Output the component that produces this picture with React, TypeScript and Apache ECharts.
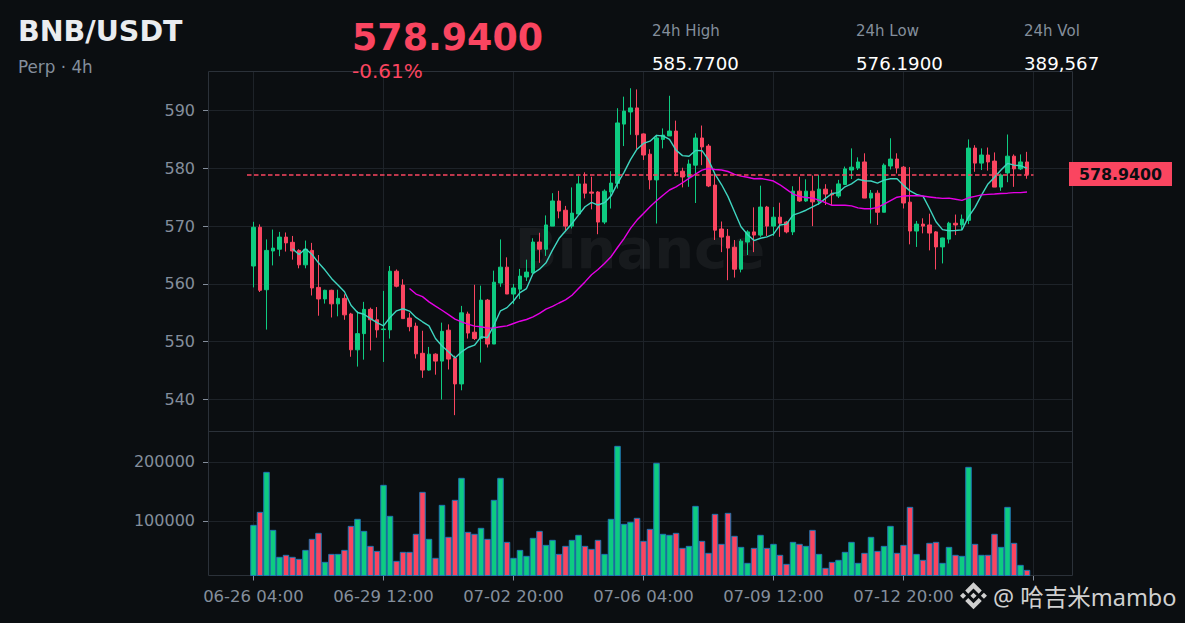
import React, { useEffect, useRef } from "react";
import * as echarts from "echarts";

const START_MS = Date.UTC(2024, 5, 26, 4);
const PAD = 7;
const PRICE_TICKS = [540, 550, 560, 570, 580, 590];
const VOLUME_TICKS = [100000, 200000];
const LAST_PRICE = 578.94;

const opens = [
  563.1, 569.8, 559.0, 565.7, 566.0, 568.1, 567.2, 565.8, 563.3, 565.8,
  559.4, 557.4, 558.9, 556.55, 557.5, 554.8, 548.6, 551.4, 555.6, 553.8,
  552.1, 552.05, 562.2, 559.8, 554.1, 552.7, 548.0, 545.1, 547.85, 546.65,
  552.0, 547.15, 542.7, 554.8, 551.65, 550.55, 557.2, 549.6, 560.15, 562.9,
  558.25, 559.1, 561.2, 561.9, 567.25, 566.0, 570.0, 574.35, 572.75, 570.0,
  572.1, 577.3, 575.9, 575.9, 570.7, 575.9, 577.4, 587.65, 589.75, 590.45,
  585.95, 582.45, 578.0, 585.0, 585.6, 586.45, 579.5, 578.5, 580.55, 585.25,
  583.85, 577.1, 569.5, 568.25, 566.35, 562.55, 567.25, 569.0, 568.45, 573.3,
  570.0, 571.55, 570.7, 569.0, 576.05, 574.35, 576.05, 574.3, 576.4, 575.6,
  575.2, 577.2, 579.7, 580.05, 581.1, 574.85, 575.7, 572.4, 580.4, 581.6,
  580.2, 574.15, 569.15, 570.35, 570.2, 569.0, 566.4, 567.75, 570.5, 570.2,
  571.0, 583.5, 580.9, 582.3, 581.25, 576.75, 579.2, 582.1, 579.9, 581.1,
];
const closes = [
  569.8, 558.9, 565.8, 566.2, 568.1, 567.1, 565.7, 563.3, 566.0, 559.3,
  557.4, 558.9, 556.55, 557.5, 554.65, 548.6, 551.4, 555.6, 553.8, 552.05,
  552.2, 562.2, 559.6, 554.0, 552.6, 547.9, 545.1, 547.85, 546.65, 551.8,
  547.0, 542.7, 555.0, 551.5, 550.55, 557.2, 549.6, 560.3, 562.9, 558.25,
  559.3, 561.35, 562.05, 567.25, 566.0, 570.2, 574.35, 572.6, 570.0, 572.25,
  577.3, 575.7, 575.7, 570.7, 576.05, 577.45, 587.85, 589.9, 590.45, 585.8,
  582.3, 578.0, 585.25, 585.75, 586.45, 579.35, 578.5, 580.75, 585.25, 583.7,
  576.95, 569.3, 568.1, 566.2, 562.55, 567.4, 569.0, 568.45, 573.3, 570.0,
  571.55, 570.5, 569.0, 576.05, 574.35, 576.05, 574.2, 576.4, 575.55, 575.4,
  577.3, 579.9, 580.2, 581.1, 574.85, 575.7, 572.4, 580.55, 581.6, 580.05,
  574.0, 569.15, 570.35, 570.0, 568.8, 566.4, 567.95, 570.5, 570.2, 571.2,
  583.5, 580.9, 582.3, 581.1, 576.75, 578.85, 582.1, 579.9, 581.1, 578.94,
];
const highs = [
  570.75, 570.3, 567.7, 569.4, 569.0, 568.9, 568.3, 566.0, 567.5, 567.1,
  565.0, 559.0, 559.0, 559.0, 558.2, 555.0, 555.3, 556.9, 555.9, 556.0,
  558.8, 563.1, 562.5, 560.8, 555.0, 553.3, 551.9, 549.1, 548.0, 553.3,
  553.0, 547.6, 556.2, 555.2, 559.85, 559.7, 557.4, 562.3, 567.7, 564.6,
  560.0, 562.6, 564.2, 567.9, 568.85, 571.85, 575.7, 576.1, 573.5, 576.7,
  578.65, 579.3, 578.55, 576.05, 576.35, 579.5, 590.4, 592.4, 593.85, 593.65,
  586.05, 583.3, 585.8, 586.9, 592.55, 588.25, 580.1, 581.5, 586.05, 587.4,
  584.2, 579.0, 570.8, 569.5, 567.6, 567.75, 569.3, 573.25, 577.0, 573.5,
  573.3, 574.05, 570.9, 576.9, 578.55, 578.1, 578.75, 578.85, 577.25, 576.3,
  578.0, 580.3, 583.45, 581.9, 582.6, 576.25, 576.2, 580.85, 585.2, 582.6,
  580.4, 580.2, 570.9, 571.35, 572.15, 569.15, 568.0, 570.75, 572.0, 572.0,
  585.0, 584.0, 583.45, 583.6, 582.75, 579.1, 585.85, 582.4, 582.4, 582.85,
];
const lows = [
  559.4, 558.6, 552.1, 563.2, 564.8, 565.6, 564.2, 562.7, 562.7, 558.0,
  554.5, 556.6, 554.2, 554.4, 553.8, 547.4, 545.7, 546.9, 548.5, 550.7,
  546.5, 550.55, 559.4, 554.0, 551.8, 547.1, 543.75, 545.0, 544.3, 540.0,
  545.2, 537.3, 541.6, 550.55, 550.3, 546.4, 549.0, 549.6, 559.5, 558.25,
  556.5, 557.4, 560.5, 561.9, 563.65, 564.85, 570.0, 571.35, 569.3, 569.6,
  572.1, 574.8, 572.9, 568.6, 570.35, 573.05, 576.5, 583.85, 585.8, 583.35,
  581.45, 576.35, 570.45, 583.45, 585.6, 578.65, 576.7, 576.8, 574.0, 580.55,
  576.75, 567.6, 565.5, 560.65, 561.1, 562.0, 565.0, 565.5, 568.15, 568.3,
  568.3, 568.15, 568.75, 568.45, 574.2, 574.2, 570.0, 573.65, 573.65, 573.65,
  574.85, 577.1, 578.15, 579.7, 574.85, 570.45, 570.2, 572.4, 579.8, 579.1,
  573.05, 566.85, 566.4, 568.75, 565.8, 562.5, 563.55, 567.0, 568.45, 569.3,
  570.35, 579.4, 579.7, 579.6, 576.75, 576.1, 577.6, 576.8, 579.7, 578.2,
];
const volumes = [
  93200, 115250, 183000, 84700, 39000, 42400, 39000, 35600, 50800, 69500,
  79650, 30500, 44000, 44000, 50800, 91500, 103400, 83000, 57600, 49100,
  161000, 108500, 32200, 47450, 47450, 78000, 149150, 69500, 37300, 127100,
  72900, 135600, 172900, 81350, 78000, 88150, 69500, 135600, 172900, 64400,
  37300, 50800, 40700, 71200, 83000, 59300, 67800, 44000, 57600, 67800,
  76300, 57600, 52500, 67800, 44000, 103400, 227100, 94900, 98300, 105100,
  66100, 86400, 198300, 78000, 76300, 79650, 54200, 57600, 125400, 66100,
  45750, 111850, 61000, 113550, 74600, 55900, 28800, 54200, 76300, 54200,
  61000, 42400, 27100, 64400, 61000, 57600, 84700, 44000, 20300, 30500,
  33900, 47450, 64400, 28800, 45750, 72900, 49100, 57600, 91500, 45750,
  59300, 123700, 44000, 33900, 62700, 64400, 28800, 55900, 42400, 40700,
  191500, 61000, 42400, 42400, 78000, 55900, 123700, 62700, 25400, 16900,
];
const ma7 = [
  null, null, null, null, null, null, 566.1, 565.1, 566.1, 565.1,
  563.65, 562.4, 560.95, 559.8, 558.65, 556.3, 555.05, 554.75, 554.0, 553.3,
  552.75, 554.2, 555.35, 555.7, 555.3, 554.2, 553.45, 552.75, 550.55, 549.25,
  548.25, 547.2, 548.25, 549.0, 549.4, 550.85, 550.7, 552.9, 555.35, 555.9,
  557.05, 558.5, 559.2, 561.8, 562.55, 563.65, 565.85, 567.85, 569.15, 570.45,
  571.9, 573.35, 574.1, 573.65, 574.05, 575.2, 577.4, 579.3, 581.5, 583.3,
  584.3, 584.7, 585.7, 585.6, 585.0, 583.15, 582.2, 582.1, 583.1, 583.05,
  581.45, 579.0, 577.2, 575.1, 572.5, 569.9, 568.55, 567.5, 567.9, 568.15,
  568.6, 570.2, 570.35, 571.9, 572.3, 572.75, 573.35, 573.9, 574.8, 575.65,
  575.8, 576.8, 577.3, 578.1, 577.85, 577.8, 577.45, 577.95, 578.2, 578.2,
  577.05, 576.1, 575.5, 575.2, 573.05, 570.75, 569.4, 569.2, 569.25, 569.35,
  571.6, 573.25, 575.35, 577.3, 578.45, 579.7, 580.85, 580.55, 580.45, 580.0,
];
const ma25 = [
  null, null, null, null, null, null, null, null, null, null,
  null, null, null, null, null, null, null, null, null, null,
  null, null, null, null, 559.2, 558.25, 557.8, 556.9, 556.15, 555.45,
  554.7, 553.9, 553.45, 553.05, 552.7, 552.6, 552.35, 552.4, 552.6, 552.75,
  553.15, 553.55, 553.85, 554.3, 554.9, 555.65, 556.1, 556.7, 557.25, 558.05,
  559.2, 560.35, 561.6, 562.5, 563.55, 564.7, 566.3, 567.85, 569.6, 571.05,
  572.2, 573.35, 574.4, 575.35, 576.25, 576.8, 577.5, 578.25, 579.0, 579.7,
  580.0, 579.8, 579.7, 579.45, 578.95, 578.65, 578.45, 578.2, 578.25, 578.05,
  577.8, 577.15, 576.35, 575.55, 575.15, 574.95, 574.85, 574.5, 574.05, 573.6,
  573.6, 573.6, 573.5, 573.15, 573.0, 573.0, 573.25, 573.8, 574.4, 575.0,
  575.2, 575.25, 575.25, 575.2, 575.05, 574.9, 574.8, 574.85, 574.65, 574.45,
  574.9, 575.15, 575.4, 575.5, 575.55, 575.65, 575.7, 575.8, 575.8, 575.9,
];

const BG = "#0b0e11";
const RED = "#fa4560";
const GREEN = "#0ecb81";
const GRAY = "#848e9c";
const SPLIT = "#1e2329";
const FRAME = "#2b3139";
const FONT = '"DejaVu Sans", sans-serif';

const pad2 = (n: number) => String(n).padStart(2, "0");
const categories = Array.from({ length: 134 }, (_, k) => {
  const d = new Date(START_MS + (k - PAD) * 4 * 3600 * 1000);
  return `${pad2(d.getUTCMonth() + 1)}-${pad2(d.getUTCDate())} ${pad2(d.getUTCHours())}:00`;
});
const padded = <T,>(arr: T[], empty: any) => [
  ...Array(PAD).fill(empty),
  ...arr,
  ...Array(categories.length - PAD - arr.length).fill(empty),
];
const candleData = padded(
  opens.map((o, i) => [o, closes[i], lows[i], highs[i]]),
  [null, null, null, null]
);
const volumeData = padded(
  volumes.map((v, i) => ({
    value: v,
    itemStyle: { color: closes[i] >= opens[i] ? GREEN : RED },
  })),
  null
);

const isTick = (idx: number) => idx >= PAD && (idx - PAD) % 20 === 0;
const isLabel = (idx: number) => isTick(idx) && idx < PAD + 120;

const LOGO =
  "M38.73 53.2l24.59-24.58 24.6 24.6 14.3-14.31L63.32 0 24.43 38.9l14.3 14.3zM0 63.31l14.3-14.31 14.31 14.31-14.31 14.3zM38.73 73.41L63.32 98l24.6-24.6 14.31 14.29-38.9 38.91-38.91-38.88-.02-.02zM98 63.31l14.3-14.31 14.31 14.3-14.31 14.32zM77.83 63.3L63.32 48.78 52.59 59.51l-1.24 1.23-2.54 2.54 14.51 14.5 14.51-14.47z";
echarts.graphic.registerShape("binanceLogo", echarts.graphic.extendPath(LOGO as any, {}));

const label = (
  x: number,
  y: number,
  text: string,
  fill: string,
  fontSize: number,
  fontWeight: string = "normal",
  extra: any = {}
) => ({
  type: "text",
  x,
  y,
  z: 10,
  style: { text, fill, fontSize, fontWeight, fontFamily: FONT, textVerticalAlign: "middle", ...extra },
});

export default function App() {
  const ref = useRef<HTMLDivElement>(null);
  useEffect(() => {
    const chart = echarts.init(ref.current!, undefined, { renderer: "svg" });
    const gridBase = { left: 208, width: 864.5, show: false };
    chart.setOption({
      animation: false,
      backgroundColor: BG,
      grid: [
        { ...gridBase, top: 71.5, height: 360 },
        { ...gridBase, top: 431.5, height: 144 },
      ],
      xAxis: [
        {
          type: "category",
          gridIndex: 0,
          data: categories,
          boundaryGap: false,
          axisLine: { show: false },
          axisTick: { show: false, interval: isTick },
          axisLabel: { show: false },
          splitLine: { show: true, interval: isTick, lineStyle: { color: SPLIT, width: 1 } },
        },
        {
          type: "category",
          gridIndex: 1,
          data: categories,
          boundaryGap: false,
          axisLine: { show: false },
          axisTick: { show: true, interval: isTick, length: 5, lineStyle: { color: GRAY, width: 1 } },
          axisLabel: { show: true, interval: isLabel, color: GRAY, fontSize: 16.5, fontFamily: FONT, margin: 12 },
          splitLine: { show: true, interval: isTick, lineStyle: { color: SPLIT, width: 1 } },
        },
      ],
      yAxis: [
        {
          type: "value",
          gridIndex: 0,
          min: 534.47,
          max: 596.75,
          axisLine: { show: false },
          axisTick: { show: true, length: 5, customValues: PRICE_TICKS, lineStyle: { color: GRAY, width: 1 } },
          axisLabel: { color: GRAY, fontSize: 16, fontFamily: FONT, margin: 13, customValues: PRICE_TICKS },
          splitLine: { show: true, lineStyle: { color: SPLIT, width: 1 } },
        },
        {
          type: "value",
          gridIndex: 1,
          min: 7345,
          max: 251400,
          axisLine: { show: false },
          axisTick: { show: true, length: 5, customValues: VOLUME_TICKS, lineStyle: { color: GRAY, width: 1 } },
          axisLabel: {
            color: GRAY,
            fontSize: 16,
            fontFamily: FONT,
            margin: 13,
            customValues: VOLUME_TICKS,
            formatter: (v: number) => String(v),
          },
          splitLine: { show: true, lineStyle: { color: SPLIT, width: 1 } },
        },
      ],
      series: [
        {
          type: "candlestick",
          xAxisIndex: 0,
          yAxisIndex: 0,
          data: candleData,
          barWidth: 4,
          itemStyle: { color: GREEN, color0: RED, borderColor: GREEN, borderColor0: RED, borderWidth: 1 },
          markLine: {
            silent: true,
            symbol: "none",
            animation: false,
            label: { show: false },
            lineStyle: { color: RED, width: 1.5, type: [4.5, 2.5], opacity: 1 },
            data: [[{ coord: [PAD - 1, LAST_PRICE] }, { coord: [PAD + 120, LAST_PRICE] }]],
          },
        },
        {
          type: "line",
          xAxisIndex: 0,
          yAxisIndex: 0,
          data: padded(ma7, null),
          showSymbol: false,
          lineStyle: { color: "#3fd5c0", width: 1.4 },
          itemStyle: { color: "#3fd5c0" },
          z: 4,
        },
        {
          type: "line",
          xAxisIndex: 0,
          yAxisIndex: 0,
          data: padded(ma25, null),
          showSymbol: false,
          lineStyle: { color: "#e600e6", width: 1.4 },
          itemStyle: { color: "#e600e6" },
          z: 4,
        },
        {
          type: "bar",
          xAxisIndex: 1,
          yAxisIndex: 1,
          data: volumeData,
          barWidth: 6.5,
          barCategoryGap: "0%",
          itemStyle: { borderColor: "#1f77b4", borderWidth: 1 },
        },
      ],
      graphic: {
        elements: [
          {
            type: "rect",
            z: 1,
            shape: { x: 208.5, y: 71.5, width: 864, height: 504 },
            style: { fill: "transparent", stroke: FRAME, lineWidth: 1 },
          },
          {
            type: "line",
            z: 1,
            shape: { x1: 208.5, y1: 431.5, x2: 1072.5, y2: 431.5 },
            style: { stroke: FRAME, lineWidth: 1 },
          },
          {
            type: "text",
            x: 640,
            y: 248,
            z: 1,
            style: {
              text: "Binance",
              fill: "rgba(255,255,255,0.05)",
              fontSize: 56,
              fontWeight: "bold",
              fontFamily: FONT,
              textAlign: "center",
              textVerticalAlign: "middle",
            },
          },
          label(18, 31, "BNB/USDT", "#eaecef", 28.5, "bold"),
          label(18, 67, "Perp · 4h", GRAY, 16.8),
          label(352, 37, "578.9400", RED, 36.4, "bold"),
          label(352, 71, "-0.61%", RED, 20),
          label(652, 31, "24h High", GRAY, 15),
          label(652, 63, "585.7700", "#ffffff", 18.2),
          label(856, 31, "24h Low", GRAY, 15),
          label(856, 63, "576.1900", "#ffffff", 18.2),
          label(1024, 31, "24h Vol", GRAY, 15),
          label(1024, 63, "389,567", "#ffffff", 18.2),
          {
            type: "rect",
            z: 9,
            shape: { x: 1069, y: 162, width: 103, height: 24 },
            style: { fill: RED },
          },
          label(1120.5, 174, "578.9400", BG, 15.8, "bold", { textAlign: "center" }),
          {
            type: "binanceLogo",
            x: 960,
            y: 582.3,
            z: 10,
            scaleX: 0.2133,
            scaleY: 0.2133,
            style: { fill: "#d0d0d0" },
          },
          {
            type: "text",
            x: 993,
            y: 596.5,
            z: 10,
            style: {
              text: "@ 哈吉米mambo",
              fill: "#d0d0d0",
              fontSize: 23.5,
              fontFamily: '"Noto Sans", "Noto Sans CJK SC", sans-serif',
              textVerticalAlign: "middle",
            },
          },
        ],
      },
    });
    return () => chart.dispose();
  }, []);
  return (
    <div
      ref={ref}
      style={{ position: "fixed", left: 0, top: 0, width: 1185, height: 623, background: BG }}
    />
  );
}
